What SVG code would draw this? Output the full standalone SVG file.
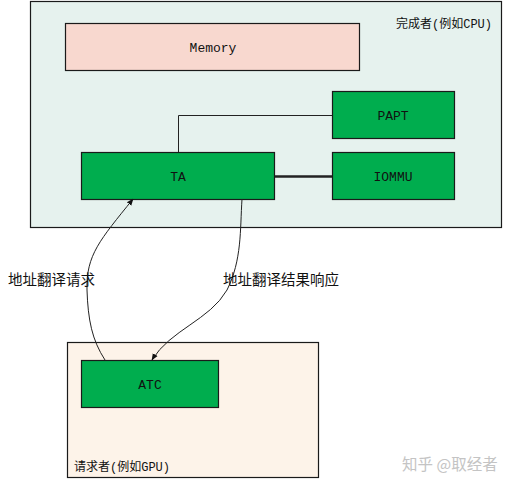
<svg xmlns="http://www.w3.org/2000/svg" width="511" height="488" viewBox="0 0 511 488">
<defs>
<style>
.box{stroke:#1a1a1a;stroke-width:1.2}
.green{fill:#00ad4e;stroke:#1a1a1a;stroke-width:1.2}
.lbl{font-family:"Liberation Mono","Noto Sans CJK SC",monospace;font-size:13px;fill:#111;text-anchor:middle}
.cap{font-family:"Liberation Mono","Noto Sans CJK SC",monospace;font-size:12px;fill:#111}
.cn{font-family:"Noto Sans CJK SC",sans-serif;font-size:14.5px;fill:#111}
.conn{fill:none;stroke:#222;stroke-width:1}
.thick{fill:none;stroke:#222;stroke-width:2.5}
</style>
<marker id="arr" viewBox="0 0 10 10" refX="9" refY="5" markerWidth="7" markerHeight="7" orient="auto-start-reverse" markerUnits="userSpaceOnUse">
<path d="M0,1 L10,5 L0,9 Z" fill="#111"/>
</marker>
</defs>
<rect width="511" height="488" fill="#ffffff"/>
<g id="cpu">
<rect x="30.5" y="1.5" width="471" height="226" class="box" fill="#e6f2ee"/>
<text x="492" y="28" class="cap" text-anchor="end">完成者(例如CPU)</text>
</g>
<g id="memory">
<rect x="65.5" y="23.5" width="294" height="47" class="box" fill="#f8d8cf"/>
<text x="213" y="52" class="lbl">Memory</text>
</g>
<g id="papt">
<rect x="332.5" y="91.5" width="122" height="47" class="green"/>
<text x="393" y="120" class="lbl">PAPT</text>
</g>
<g id="iommu">
<rect x="332.5" y="152.5" width="122" height="47" class="green"/>
<text x="393" y="181" class="lbl">IOMMU</text>
</g>
<g id="ta">
<rect x="81.5" y="152.5" width="193" height="47" class="green"/>
<text x="178" y="181" class="lbl">TA</text>
</g>
<g id="gpu">
<rect x="67.5" y="342.5" width="251" height="135" class="box" fill="#fdf3e9"/>
<text x="74" y="471" class="cap">请求者(例如GPU)</text>
</g>
<g id="atc">
<rect x="81.5" y="360.5" width="137" height="47" class="green"/>
<text x="150" y="389" class="lbl">ATC</text>
</g>
<g id="connectors">
<path d="M178.5,152 V115.5 H332" class="conn"/>
<path d="M275,176.5 H332" class="thick"/>
<path d="M105,360 C92,340 88,320 87,290 C86,255 100,240 133,199" class="conn" marker-end="url(#arr)"/>
<path d="M242,199 C240,230 242,260 227,290 C210,320 170,330 152,360" class="conn" marker-end="url(#arr)"/>
</g>
<text x="8" y="285" class="cn">地址翻译请求</text>
<text x="223" y="285" class="cn">地址翻译结果响应</text>
<text x="402" y="470" font-family="Noto Sans CJK SC,sans-serif" font-size="15.5" fill="#c4c4c4">知乎 @取经者</text>
</svg>
